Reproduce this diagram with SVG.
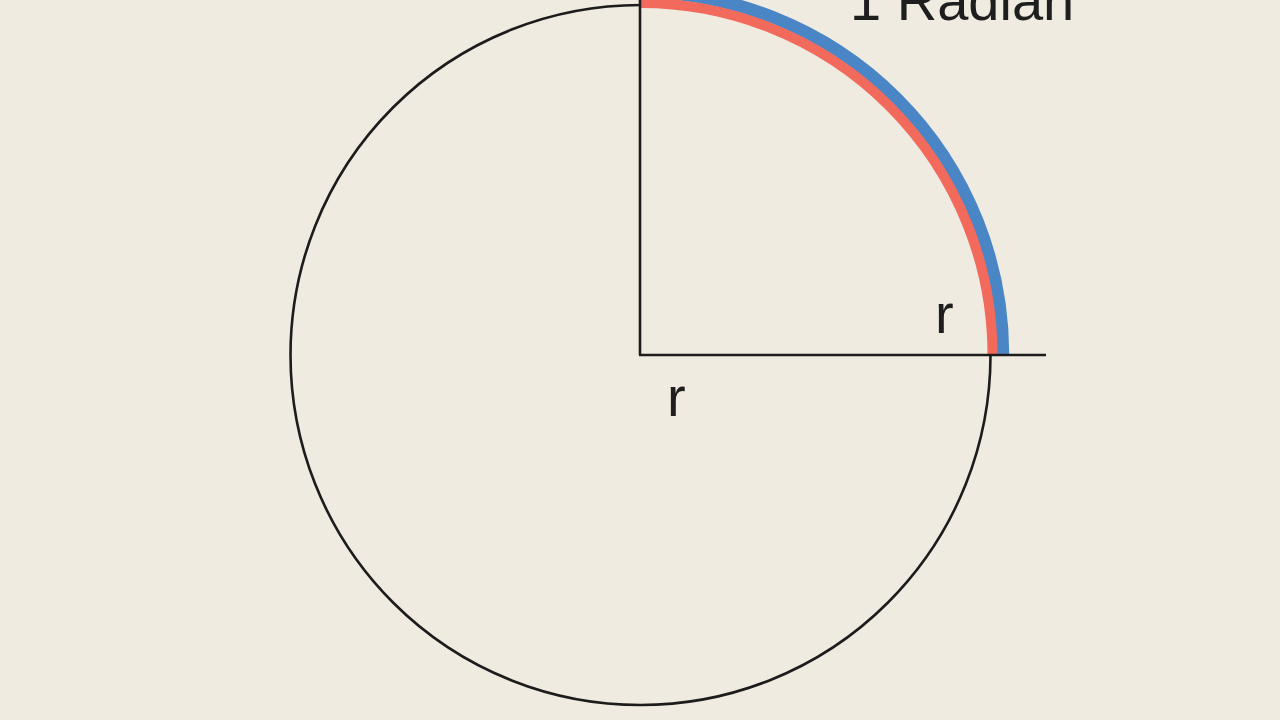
<svg xmlns="http://www.w3.org/2000/svg" width="1280" height="720" viewBox="0 0 1280 720">
<style>
.ln{fill:none;stroke:#1c1c1c;stroke-width:2.6}
.lbl{font-family:"Liberation Sans",Arial,sans-serif;fill:#1e1e1e;font-size:56px}
</style>
<rect width="1280" height="720" fill="#f0ebe0"/>
<g id="circle"><circle class="ln" cx="640.5" cy="355" r="350"/></g>
<g id="arcs">
<path d="M 640 -8 A 363 363 0 0 1 1003 355" fill="none" stroke="#4a86c6" stroke-width="12.5"/>
<path d="M 640 3 A 352 352 0 0 1 992.5 355" fill="none" stroke="#f26a5c" stroke-width="10"/>
</g>
<g id="connectors">
<line class="ln" x1="640" y1="0" x2="640" y2="355"/>
<line class="ln" x1="639" y1="355" x2="1046" y2="355"/>
</g>
<g id="labels">
<text class="lbl" x="850" y="20">1 Radian</text>
<text class="lbl" x="935" y="333">r</text>
<text class="lbl" x="667" y="416">r</text>
</g>
</svg>
